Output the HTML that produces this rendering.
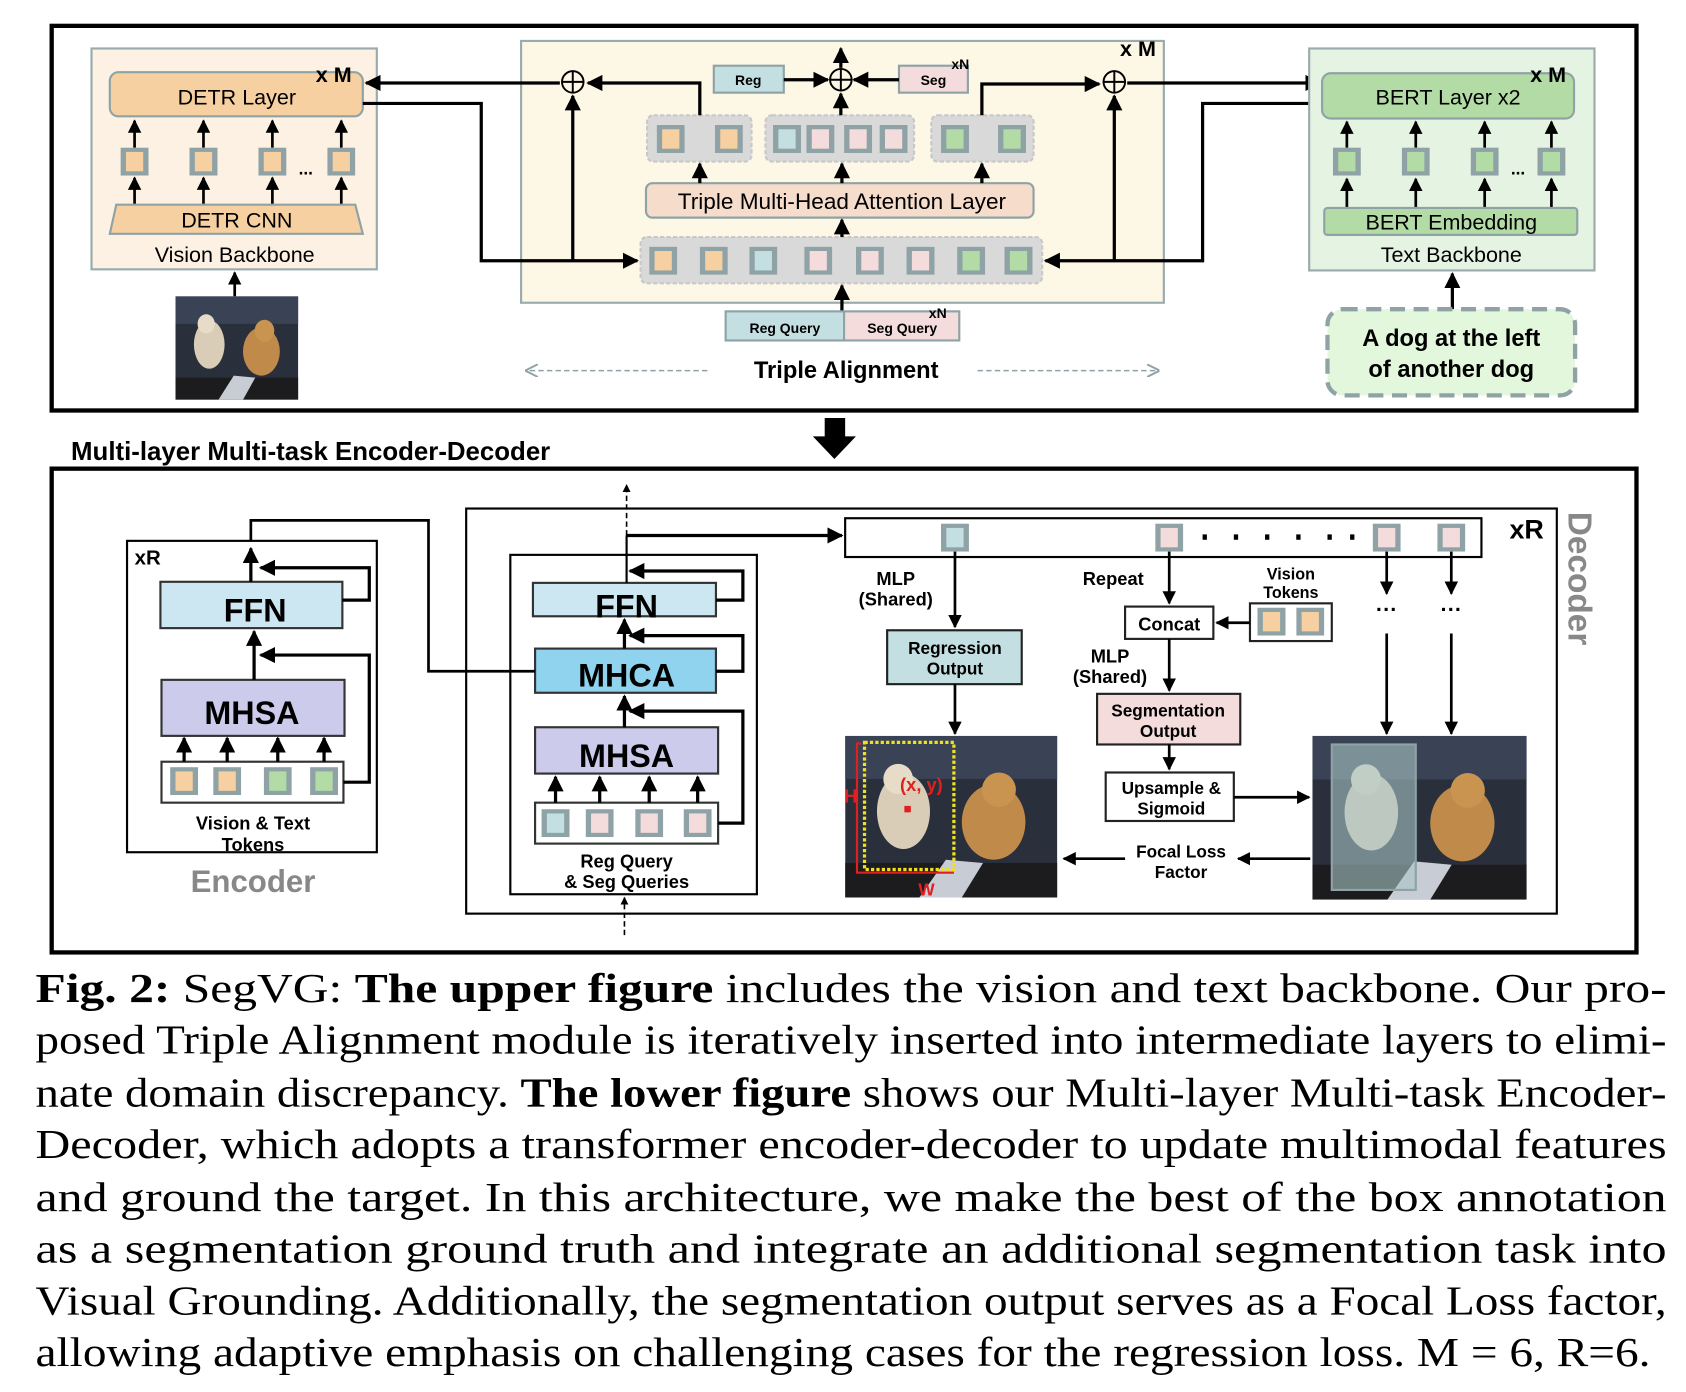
<!DOCTYPE html>
<html><head><meta charset="utf-8"><style>html,body{margin:0;padding:0;background:#fff}svg{display:block}</style></head>
<body>
<svg width="1686" height="1392" viewBox="0 0 1566 1292" preserveAspectRatio="none" xmlns="http://www.w3.org/2000/svg" font-family="'Liberation Sans', sans-serif">
<defs>
<marker id="a" viewBox="0 0 10 10" refX="9" refY="5" markerWidth="5" markerHeight="5" orient="auto-start-reverse"><path d="M0,0L10,5L0,10z" fill="#000"/></marker>
<marker id="g" viewBox="0 0 10 10" refX="9" refY="5" markerWidth="8" markerHeight="8" orient="auto"><path d="M0,0L10,5L0,10" fill="none" stroke="#8fa3a6" stroke-width="1.5"/></marker>
<symbol id="tT" width="26" height="26"><rect width="26" height="26" fill="#8fa3a6"/><rect x="5" y="4" width="16" height="18" fill="#f7d0a2"/></symbol>
<symbol id="tB" width="26" height="26"><rect width="26" height="26" fill="#8fa3a6"/><rect x="5" y="4" width="16" height="18" fill="#c3dfe2"/></symbol>
<symbol id="tP" width="26" height="26"><rect width="26" height="26" fill="#8fa3a6"/><rect x="5" y="4" width="16" height="18" fill="#f5dcdc"/></symbol>
<symbol id="tG" width="26" height="26"><rect width="26" height="26" fill="#8fa3a6"/><rect x="5" y="4" width="16" height="18" fill="#b3dba6"/></symbol>
<symbol id="dog" viewBox="0 0 200 150" preserveAspectRatio="none"><rect width="200" height="150" fill="#2a2f3c"/><rect x="0" y="0" width="200" height="40" fill="#3a4256"/><rect x="0" y="118" width="200" height="32" fill="#1c1c1e"/><polygon points="70,150 95,115 130,118 110,150" fill="#c8ccd4"/><ellipse cx="55" cy="70" rx="25" ry="35" fill="#d9cdb8"/><ellipse cx="50" cy="40" rx="14" ry="14" fill="#e6dcc8"/><ellipse cx="140" cy="80" rx="30" ry="35" fill="#c08a4a"/><ellipse cx="145" cy="50" rx="16" ry="16" fill="#c9944f"/></symbol>
</defs>

<!-- TOP FRAME -->
<rect x="48" y="24" width="1472" height="357" fill="none" stroke="#000" stroke-width="4"/>

<!-- Vision backbone -->
<rect x="85" y="45" width="265" height="205" fill="#fdf1e3" stroke="#9aabad" stroke-width="2"/>
<rect x="102" y="67" width="235" height="41" rx="8" fill="#f7d0a2" stroke="#8fa3a6" stroke-width="2"/>
<text x="220" y="97" font-size="20" text-anchor="middle">DETR Layer</text>
<text x="310" y="76" font-size="20" font-weight="bold" text-anchor="middle">x M</text>
<use href="#tT" x="112" y="137"/><use href="#tT" x="176" y="137"/><use href="#tT" x="240" y="137"/><use href="#tT" x="304" y="137"/>
<text x="284" y="162" font-size="16" font-weight="bold" text-anchor="middle">...</text>
<g stroke="#000" stroke-width="2.5" marker-end="url(#a)">
<line x1="125" y1="137" x2="125" y2="112"/><line x1="189" y1="137" x2="189" y2="112"/><line x1="253" y1="137" x2="253" y2="112"/><line x1="317" y1="137" x2="317" y2="112"/>
<line x1="125" y1="190" x2="125" y2="165"/><line x1="189" y1="190" x2="189" y2="165"/><line x1="253" y1="190" x2="253" y2="165"/><line x1="317" y1="190" x2="317" y2="165"/>
<line x1="218" y1="275" x2="218" y2="253"/>
</g>
<polygon points="108,190 330,190 337,217 102,217" fill="#f7d0a2" stroke="#8fa3a6" stroke-width="2"/>
<text x="220" y="211" font-size="20" text-anchor="middle">DETR CNN</text>
<text x="218" y="243" font-size="20" text-anchor="middle">Vision Backbone</text>
<use href="#dog" x="163" y="275" width="114" height="96"/>

<!-- Triple alignment -->
<rect x="484" y="38" width="597" height="243" fill="#fdf7e6" stroke="#9aabad" stroke-width="2"/>
<text x="1057" y="52" font-size="20" font-weight="bold" text-anchor="middle">x M</text>
<g fill="none" stroke="#000" stroke-width="1.8">
<circle cx="532" cy="76" r="10"/><line x1="522" y1="76" x2="542" y2="76"/><line x1="532" y1="66" x2="532" y2="86"/>
<circle cx="781" cy="74" r="10"/><line x1="771" y1="74" x2="791" y2="74"/><line x1="781" y1="64" x2="781" y2="84"/>
<circle cx="1035" cy="76" r="10"/><line x1="1025" y1="76" x2="1045" y2="76"/><line x1="1035" y1="66" x2="1035" y2="86"/>
</g>
<rect x="663" y="61" width="65" height="25" fill="#c3dfe2" stroke="#8fa3a6" stroke-width="2"/>
<text x="695" y="79" font-size="13" font-weight="bold" text-anchor="middle">Reg</text>
<rect x="835" y="61" width="64" height="25" fill="#f5dcdc" stroke="#8fa3a6" stroke-width="2"/>
<text x="867" y="79" font-size="13" font-weight="bold" text-anchor="middle">Seg</text>
<text x="892" y="64" font-size="13" font-weight="bold" text-anchor="middle">xN</text>
<rect x="601" y="107" width="97" height="43" rx="6" fill="#d9d9d9" stroke="#c8c8c8" stroke-width="2" stroke-dasharray="4 2"/>
<rect x="711" y="107" width="138" height="43" rx="6" fill="#d9d9d9" stroke="#c8c8c8" stroke-width="2" stroke-dasharray="4 2"/>
<rect x="865" y="107" width="95" height="43" rx="6" fill="#d9d9d9" stroke="#c8c8c8" stroke-width="2" stroke-dasharray="4 2"/>
<use href="#tT" x="610" y="116"/><use href="#tT" x="664" y="116"/>
<use href="#tB" x="718" y="116"/><use href="#tP" x="749" y="116"/><use href="#tP" x="784" y="116"/><use href="#tP" x="817" y="116"/>
<use href="#tG" x="874" y="116"/><use href="#tG" x="927" y="116"/>
<rect x="600" y="170" width="360" height="32" rx="6" fill="#f6dccb" stroke="#8fa3a6" stroke-width="2"/>
<text x="782" y="194" font-size="21" text-anchor="middle">Triple Multi-Head Attention Layer</text>
<rect x="595" y="220" width="373" height="43" rx="6" fill="#d9d9d9" stroke="#c8c8c8" stroke-width="2" stroke-dasharray="4 2"/>
<use href="#tT" x="603" y="229"/><use href="#tT" x="650" y="229"/><use href="#tB" x="696" y="229"/><use href="#tP" x="747" y="229"/><use href="#tP" x="795" y="229"/><use href="#tP" x="842" y="229"/><use href="#tG" x="889" y="229"/><use href="#tG" x="933" y="229"/>
<g fill="none" stroke="#000" stroke-width="3" marker-end="url(#a)">
<line x1="728" y1="74" x2="769" y2="74"/><line x1="835" y1="74" x2="793" y2="74"/>
<line x1="781" y1="63" x2="781" y2="45"/>
<polyline points="650,107 650,77 546,77"/>
<polyline points="912,107 912,78 1021,78"/>
<line x1="532" y1="242" x2="532" y2="89"/><line x1="1035" y1="242" x2="1035" y2="89"/>
<line x1="781" y1="107" x2="781" y2="87"/><line x1="650" y1="170" x2="650" y2="152"/><line x1="782" y1="170" x2="782" y2="152"/><line x1="912" y1="170" x2="912" y2="152"/>
<line x1="782" y1="220" x2="782" y2="204"/><line x1="782" y1="289" x2="782" y2="265"/>
<line x1="520" y1="77" x2="340" y2="77"/>
<polyline points="337,96 447,96 447,242 592,242"/>
<polyline points="1228,96 1117,96 1117,242 971,242"/>
<line x1="1047" y1="77" x2="1226" y2="77"/>
<line x1="1349" y1="287" x2="1349" y2="254"/>
</g>
<rect x="674" y="289" width="110" height="27" fill="#c3dfe2" stroke="#8fa3a6" stroke-width="2"/>
<text x="729" y="309" font-size="13" font-weight="bold" text-anchor="middle">Reg Query</text>
<rect x="784" y="289" width="107" height="27" fill="#f5dcdc" stroke="#8fa3a6" stroke-width="2"/>
<text x="838" y="309" font-size="13" font-weight="bold" text-anchor="middle">Seg Query</text>
<text x="871" y="295" font-size="13" font-weight="bold" text-anchor="middle">xN</text>
<text x="786" y="351" font-size="22" font-weight="bold" text-anchor="middle">Triple Alignment</text>
<g stroke="#8fa3a6" stroke-width="1.5" stroke-dasharray="5 3" fill="none">
<line x1="657" y1="344" x2="489" y2="344" marker-end="url(#g)"/>
<line x1="908" y1="344" x2="1076" y2="344" marker-end="url(#g)"/>
</g>

<!-- Text backbone -->
<rect x="1216" y="45" width="265" height="206" fill="#e5f3e3" stroke="#9aabad" stroke-width="2"/>
<rect x="1228" y="68" width="234" height="42" rx="8" fill="#b3dba6" stroke="#8fa3a6" stroke-width="2"/>
<text x="1345" y="97" font-size="20" text-anchor="middle">BERT Layer x2</text>
<text x="1438" y="76" font-size="20" font-weight="bold" text-anchor="middle">x M</text>
<use href="#tG" x="1238" y="137"/><use href="#tG" x="1302" y="137"/><use href="#tG" x="1366" y="137"/><use href="#tG" x="1428" y="137"/>
<text x="1410" y="162" font-size="16" font-weight="bold" text-anchor="middle">...</text>
<g stroke="#000" stroke-width="2.5" marker-end="url(#a)">
<line x1="1251" y1="137" x2="1251" y2="113"/><line x1="1315" y1="137" x2="1315" y2="113"/><line x1="1379" y1="137" x2="1379" y2="113"/><line x1="1441" y1="137" x2="1441" y2="113"/>
<line x1="1251" y1="193" x2="1251" y2="166"/><line x1="1315" y1="193" x2="1315" y2="166"/><line x1="1379" y1="193" x2="1379" y2="166"/><line x1="1441" y1="193" x2="1441" y2="166"/>
</g>
<rect x="1230" y="193" width="235" height="25" rx="3" fill="#b3dba6" stroke="#8fa3a6" stroke-width="2"/>
<text x="1348" y="213" font-size="20" text-anchor="middle">BERT Embedding</text>
<text x="1348" y="243" font-size="20" text-anchor="middle">Text Backbone</text>
<rect x="1233" y="287" width="230" height="80" rx="14" fill="#e3f7dc" stroke="#8fa3a6" stroke-width="4" stroke-dasharray="14 8"/>
<text x="1348" y="321" font-size="22" font-weight="bold" text-anchor="middle">A dog at the left</text>
<text x="1348" y="350" font-size="22" font-weight="bold" text-anchor="middle">of another dog</text>

<!-- Middle -->
<polygon points="766,388 785,388 785,405 795,405 775,426 755,405 766,405" fill="#000"/>
<text x="66" y="427" font-size="24" font-weight="bold">Multi-layer Multi-task Encoder-Decoder</text>

<!-- BOTTOM FRAME -->
<rect x="48" y="435" width="1472" height="449" fill="none" stroke="#000" stroke-width="4"/>

<!-- Encoder -->
<rect x="118" y="502" width="232" height="289" fill="none" stroke="#000" stroke-width="2"/>
<text x="125" y="524" font-size="19" font-weight="bold">xR</text>
<rect x="149" y="540" width="169" height="43" fill="#cce6f2" stroke="#333" stroke-width="2"/>
<text x="237" y="577" font-size="30" font-weight="bold" text-anchor="middle">FFN</text>
<rect x="150" y="631" width="170" height="52" fill="#cdcbeb" stroke="#333" stroke-width="2"/>
<text x="234" y="672" font-size="30" font-weight="bold" text-anchor="middle">MHSA</text>
<rect x="150" y="707" width="169" height="38" fill="#fff" stroke="#333" stroke-width="2"/>
<use href="#tT" x="158" y="712"/><use href="#tT" x="198" y="712"/><use href="#tG" x="245" y="712"/><use href="#tG" x="288" y="712"/>
<text x="235" y="770" font-size="17" font-weight="bold" text-anchor="middle">Vision &amp; Text</text>
<text x="235" y="790" font-size="17" font-weight="bold" text-anchor="middle">Tokens</text>
<text x="235" y="828" font-size="29" font-weight="bold" fill="#888" text-anchor="middle">Encoder</text>

<!-- Decoder -->
<rect x="433" y="472" width="1013" height="376" fill="none" stroke="#000" stroke-width="2"/>
<rect x="474" y="515" width="229" height="315" fill="none" stroke="#000" stroke-width="2"/>
<rect x="495" y="541" width="170" height="31" fill="#cce6f2" stroke="#333" stroke-width="2"/>
<text x="582" y="573" font-size="30" font-weight="bold" text-anchor="middle">FFN</text>
<rect x="497" y="602" width="168" height="41" fill="#8fd3ef" stroke="#333" stroke-width="2"/>
<text x="582" y="637" font-size="30" font-weight="bold" text-anchor="middle">MHCA</text>
<rect x="497" y="675" width="170" height="43" fill="#cdcbeb" stroke="#333" stroke-width="2"/>
<text x="582" y="712" font-size="30" font-weight="bold" text-anchor="middle">MHSA</text>
<rect x="497" y="745" width="170" height="38" fill="#fff" stroke="#333" stroke-width="2"/>
<use href="#tB" x="503" y="751"/><use href="#tP" x="544" y="751"/><use href="#tP" x="590" y="751"/><use href="#tP" x="635" y="751"/>
<text x="582" y="805" font-size="17" font-weight="bold" text-anchor="middle">Reg Query</text>
<text x="582" y="824" font-size="17" font-weight="bold" text-anchor="middle">&amp; Seg Queries</text>

<g fill="none" stroke="#000" stroke-width="3" marker-end="url(#a)">
<line x1="171" y1="707" x2="171" y2="685"/><line x1="211" y1="707" x2="211" y2="685"/><line x1="258" y1="707" x2="258" y2="685"/><line x1="301" y1="707" x2="301" y2="685"/>
<line x1="236" y1="631" x2="236" y2="586"/>
<polyline points="319,726 343,726 343,608 242,608"/>
<polyline points="318,557 343,557 343,527 242,527"/>
<line x1="233" y1="540" x2="233" y2="509"/>
<line x1="516" y1="745" x2="516" y2="721"/><line x1="557" y1="745" x2="557" y2="721"/><line x1="603" y1="745" x2="603" y2="721"/><line x1="648" y1="745" x2="648" y2="721"/>
<line x1="580" y1="675" x2="580" y2="646"/><polyline points="667,764 690,764 690,660 585,660"/>
<line x1="580" y1="602" x2="580" y2="575"/><polyline points="665,623 690,623 690,590 585,590"/>
<polyline points="665,557 690,557 690,530 585,530"/>
<line x1="582" y1="497" x2="782" y2="497"/>
</g>
<polyline points="233,502 233,483 398,483 398,623 497,623" fill="none" stroke="#000" stroke-width="2.5"/>
<line x1="582" y1="541" x2="582" y2="497" stroke="#000" stroke-width="2"/>
<g stroke="#000" stroke-width="1.5" stroke-dasharray="5 3" marker-end="url(#a)">
<line x1="582" y1="497" x2="582" y2="450"/><line x1="580" y1="868" x2="580" y2="833"/>
</g>

<rect x="785" y="481" width="591" height="36" fill="#fff" stroke="#000" stroke-width="2"/>
<use href="#tB" x="874" y="486"/><use href="#tP" x="1073" y="486"/><use href="#tP" x="1275" y="486"/><use href="#tP" x="1335" y="486"/>
<g fill="#000"><rect x="1117" y="496" width="4" height="5"/><rect x="1146" y="496" width="4" height="5"/><rect x="1175" y="496" width="4" height="5"/><rect x="1204" y="496" width="4" height="5"/><rect x="1233" y="496" width="4" height="5"/><rect x="1254" y="496" width="4" height="5"/></g>
<text x="1418" y="500" font-size="25" font-weight="bold" text-anchor="middle">xR</text>
<text transform="translate(1457,475) rotate(90)" font-size="31" font-weight="bold" fill="#888">Decoder</text>

<text x="832" y="543" font-size="17" font-weight="bold" text-anchor="middle">MLP</text>
<text x="832" y="562" font-size="17" font-weight="bold" text-anchor="middle">(Shared)</text>
<rect x="824" y="585" width="125" height="50" fill="#c3dfe2" stroke="#222" stroke-width="2"/>
<text x="887" y="607" font-size="16" font-weight="bold" text-anchor="middle">Regression</text>
<text x="887" y="626" font-size="16" font-weight="bold" text-anchor="middle">Output</text>
<text x="1034" y="543" font-size="17" font-weight="bold" text-anchor="middle">Repeat</text>
<text x="1199" y="538" font-size="15" font-weight="bold" text-anchor="middle">Vision</text>
<text x="1199" y="555" font-size="15" font-weight="bold" text-anchor="middle">Tokens</text>
<rect x="1045" y="563" width="82" height="30" fill="#fff" stroke="#222" stroke-width="2"/>
<text x="1086" y="585" font-size="17" font-weight="bold" text-anchor="middle">Concat</text>
<rect x="1161" y="560" width="76" height="35" fill="#fff" stroke="#222" stroke-width="2"/>
<use href="#tT" x="1168" y="564"/><use href="#tT" x="1204" y="564"/>
<text x="1031" y="615" font-size="17" font-weight="bold" text-anchor="middle">MLP</text>
<text x="1031" y="634" font-size="17" font-weight="bold" text-anchor="middle">(Shared)</text>
<rect x="1019" y="644" width="133" height="47" fill="#f5dcdc" stroke="#222" stroke-width="2"/>
<text x="1085" y="665" font-size="16" font-weight="bold" text-anchor="middle">Segmentation</text>
<text x="1085" y="684" font-size="16" font-weight="bold" text-anchor="middle">Output</text>
<rect x="1027" y="717" width="119" height="45" fill="#fff" stroke="#222" stroke-width="2"/>
<text x="1088" y="737" font-size="16" font-weight="bold" text-anchor="middle">Upsample &amp;</text>
<text x="1088" y="756" font-size="16" font-weight="bold" text-anchor="middle">Sigmoid</text>
<text x="1097" y="796" font-size="16" font-weight="bold" text-anchor="middle">Focal Loss</text>
<text x="1097" y="815" font-size="16" font-weight="bold" text-anchor="middle">Factor</text>
<text x="1288" y="572" font-size="20" font-weight="bold" text-anchor="middle">···</text>
<text x="1348" y="572" font-size="20" font-weight="bold" text-anchor="middle">···</text>
<g fill="none" stroke="#000" stroke-width="2.5" marker-end="url(#a)">
<line x1="887" y1="512" x2="887" y2="582"/><line x1="887" y1="635" x2="887" y2="681"/>
<line x1="1086" y1="512" x2="1086" y2="560"/><line x1="1161" y1="578" x2="1130" y2="578"/>
<line x1="1086" y1="593" x2="1086" y2="641"/><line x1="1086" y1="691" x2="1086" y2="714"/>
<line x1="1146" y1="740" x2="1216" y2="740"/>
<line x1="1288" y1="512" x2="1288" y2="551"/><line x1="1348" y1="512" x2="1348" y2="551"/>
<line x1="1288" y1="588" x2="1288" y2="681"/><line x1="1348" y1="588" x2="1348" y2="681"/>
<line x1="1217" y1="797" x2="1150" y2="797"/><line x1="1045" y1="797" x2="988" y2="797"/>
</g>

<use href="#dog" x="785" y="683" width="197" height="150"/>
<rect x="803" y="689" width="83" height="118" fill="none" stroke="#f0e020" stroke-width="3" stroke-dasharray="3 2"/>
<polyline points="800,690 796,690 796,810 886,810" fill="none" stroke="#e02020" stroke-width="2"/>
<text x="784" y="745" font-size="17" font-weight="bold" fill="#e02020">H</text>
<text x="836" y="734" font-size="17" font-weight="bold" fill="#e02020">(x, y)</text>
<rect x="840" y="748" width="6" height="6" fill="#e02020"/>
<text x="853" y="831" font-size="16" font-weight="bold" fill="#e02020">W</text>
<use href="#dog" x="1219" y="683" width="199" height="152"/>
<rect x="1237" y="691" width="78" height="135" fill="#a9c4c4" fill-opacity="0.6" stroke="#8fa3a6" stroke-width="2"/>

<!-- Caption -->
<g font-family="'Liberation Serif', serif" font-size="38" fill="#000">
<text x="33" y="930" textLength="1515" lengthAdjust="spacingAndGlyphs"><tspan font-weight="bold">Fig. 2:</tspan> SegVG: <tspan font-weight="bold">The upper figure</tspan> includes the vision and text backbone. Our pro-</text>
<text x="33" y="978" textLength="1515" lengthAdjust="spacingAndGlyphs">posed Triple Alignment module is iteratively inserted into intermediate layers to elimi-</text>
<text x="33" y="1027" textLength="1515" lengthAdjust="spacingAndGlyphs">nate domain discrepancy. <tspan font-weight="bold">The lower figure</tspan> shows our Multi-layer Multi-task Encoder-</text>
<text x="33" y="1075" textLength="1515" lengthAdjust="spacingAndGlyphs">Decoder, which adopts a transformer encoder-decoder to update multimodal features</text>
<text x="33" y="1124" textLength="1515" lengthAdjust="spacingAndGlyphs">and ground the target. In this architecture, we make the best of the box annotation</text>
<text x="33" y="1172" textLength="1515" lengthAdjust="spacingAndGlyphs">as a segmentation ground truth and integrate an additional segmentation task into</text>
<text x="33" y="1220" textLength="1515" lengthAdjust="spacingAndGlyphs">Visual Grounding. Additionally, the segmentation output serves as a Focal Loss factor,</text>
<text x="33" y="1268" textLength="1500" lengthAdjust="spacingAndGlyphs">allowing adaptive emphasis on challenging cases for the regression loss. M = 6, R=6.</text>
</g>
</svg>
</body></html>
